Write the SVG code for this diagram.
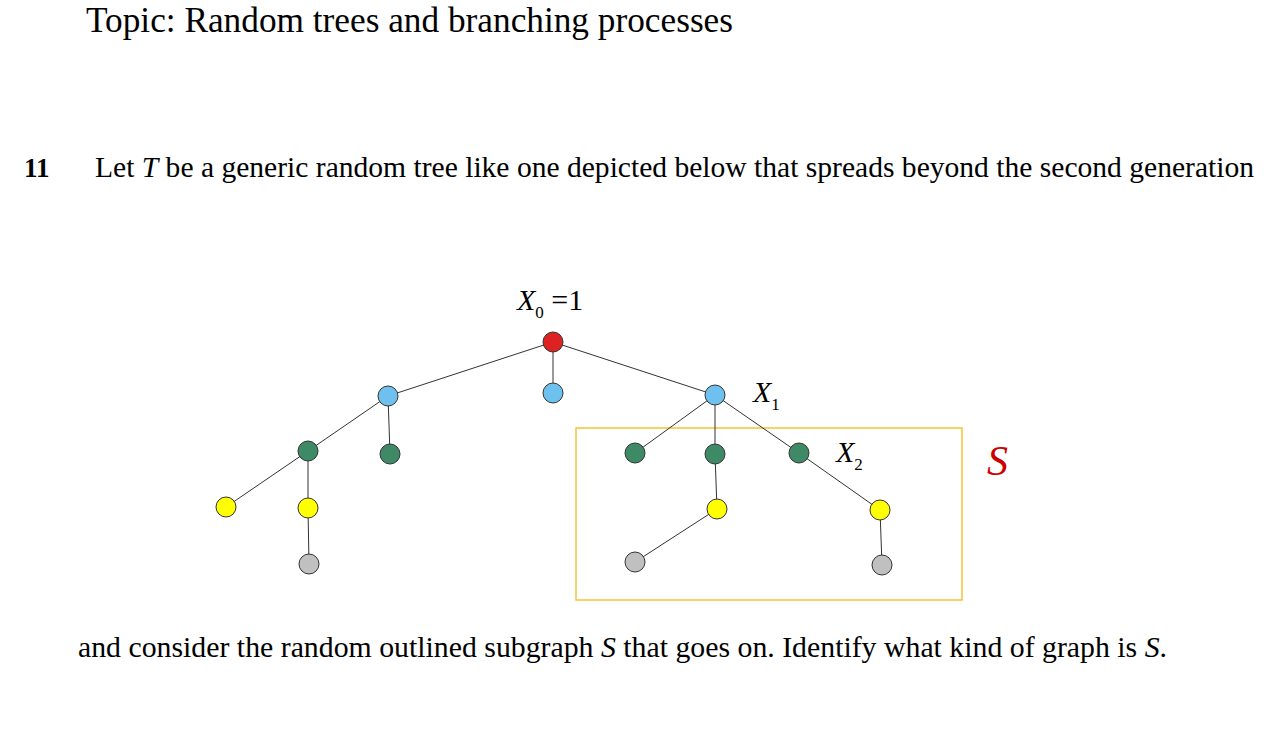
<svg xmlns="http://www.w3.org/2000/svg" width="1276" height="748" viewBox="0 0 1276 748">
<style>
.t{font-family:"Liberation Serif",serif;fill:#000}
.n{stroke:#333;stroke-width:1}
.r{fill:#dd2222}.b{fill:#6ec1ee}.g{fill:#3f8a66}.y{fill:#ffff00}.s{fill:#c0c0c0}
#edges line{stroke:#333;stroke-width:1}
</style>
<rect width="1276" height="748" fill="#fff"/>
<text class="t" x="86" y="32" font-size="35" textLength="647" lengthAdjust="spacingAndGlyphs">Topic: Random trees and branching processes</text>
<text class="t" x="24" y="177" font-size="27" font-weight="bold">11</text>
<text class="t" x="95" y="177" font-size="29.5" textLength="1159" lengthAdjust="spacingAndGlyphs">Let <tspan font-style="italic">T</tspan> be a generic random tree like one depicted below that spreads beyond the second generation</text>
<text class="t" x="78" y="657" font-size="29.5" textLength="1089" lengthAdjust="spacingAndGlyphs">and consider the random outlined subgraph <tspan font-style="italic">S</tspan> that goes on. Identify what kind of graph is <tspan font-style="italic">S</tspan>.</text>
<text class="t" x="517" y="310" font-size="30" font-style="italic">X<tspan font-size="17" font-style="normal" dy="8">0</tspan><tspan dy="-8" font-style="normal"> =1</tspan></text>
<text class="t" x="753" y="402" font-size="30" font-style="italic">X<tspan font-size="17" font-style="normal" dy="8">1</tspan></text>
<text class="t" x="836" y="462" font-size="30" font-style="italic">X<tspan font-size="17" font-style="normal" dy="8">2</tspan></text>
<text x="987" y="475" font-size="42" font-style="italic" font-family="Liberation Serif,serif" fill="#cc0000">S</text>
<rect x="576" y="428" width="386" height="172" fill="none" stroke="#f7c234" stroke-width="1.5"/>
<g id="edges">
<line x1="553" y1="342" x2="388" y2="396"/><line x1="553" y1="342" x2="553" y2="393"/><line x1="553" y1="342" x2="715" y2="395"/>
<line x1="388" y1="396" x2="308" y2="451"/><line x1="388" y1="396" x2="390" y2="454"/>
<line x1="715" y1="395" x2="635" y2="453"/><line x1="715" y1="395" x2="715" y2="454"/><line x1="715" y1="395" x2="799" y2="453"/>
<line x1="308" y1="451" x2="226" y2="507"/><line x1="308" y1="451" x2="308" y2="508"/><line x1="308" y1="508" x2="309" y2="564"/>
<line x1="715" y1="454" x2="717" y2="509"/><line x1="717" y1="509" x2="635" y2="562"/>
<line x1="799" y1="453" x2="880" y2="510"/><line x1="880" y1="510" x2="882" y2="565"/>
</g>
<g id="n0"><ellipse class="n r" cx="553" cy="342" rx="10" ry="10"/></g>
<g id="n1"><ellipse class="n b" cx="388" cy="396" rx="10" ry="10"/></g>
<g id="n2"><ellipse class="n b" cx="553" cy="393" rx="10" ry="10"/></g>
<g id="n3"><ellipse class="n b" cx="715" cy="395" rx="10" ry="10"/></g>
<g id="n4"><ellipse class="n g" cx="308" cy="451" rx="10" ry="10"/></g>
<g id="n5"><ellipse class="n g" cx="390" cy="454" rx="10" ry="10"/></g>
<g id="n6"><ellipse class="n g" cx="635" cy="453" rx="10" ry="10"/></g>
<g id="n7"><ellipse class="n g" cx="715" cy="454" rx="10" ry="10"/></g>
<g id="n8"><ellipse class="n g" cx="799" cy="453" rx="10" ry="10"/></g>
<g id="n9"><ellipse class="n y" cx="226" cy="507" rx="10" ry="10"/></g>
<g id="n10"><ellipse class="n y" cx="308" cy="508" rx="10" ry="10"/></g>
<g id="n11"><ellipse class="n y" cx="717" cy="509" rx="10" ry="10"/></g>
<g id="n12"><ellipse class="n y" cx="880" cy="510" rx="10" ry="10"/></g>
<g id="n13"><ellipse class="n s" cx="309" cy="564" rx="10" ry="10"/></g>
<g id="n14"><ellipse class="n s" cx="635" cy="562" rx="10" ry="10"/></g>
<g id="n15"><ellipse class="n s" cx="882" cy="565" rx="10" ry="10"/></g>
</svg>
